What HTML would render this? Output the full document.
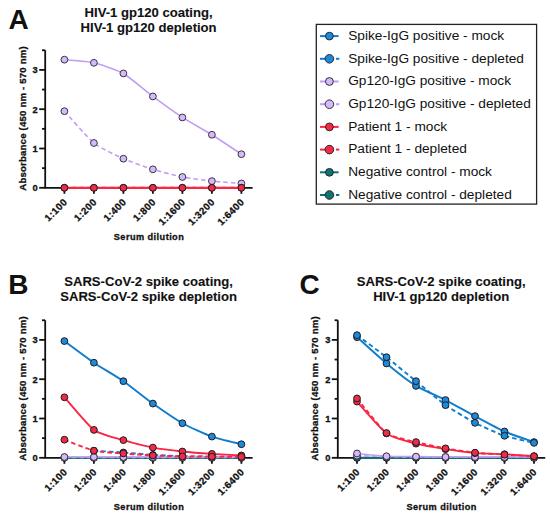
<!DOCTYPE html>
<html><head><meta charset="utf-8"><style>
html,body{margin:0;padding:0;background:#fff;width:550px;height:518px;overflow:hidden}
svg{display:block}
text{font-family:"Liberation Sans", sans-serif;fill:#111}

</style></head><body>
<svg width="550" height="518" viewBox="0 0 550 518">
<text x="8.6" y="28.6" font-size="28" font-weight="bold">A</text>
<text x="148.6" y="16.8" font-size="13.1" font-weight="bold" stroke="#111" stroke-width="0.1" text-anchor="middle">HIV-1 gp120 coating,</text>
<text x="148.6" y="31.5" font-size="13.1" font-weight="bold" stroke="#111" stroke-width="0.1" text-anchor="middle">HIV-1 gp120 depletion</text>
<path d="M45.20,50.25 V187.80 H252.60" fill="none" stroke="#111" stroke-width="1.8"/>
<line x1="39.20" y1="187.80" x2="45.20" y2="187.80" stroke="#111" stroke-width="1.8"/>
<text x="37.7" y="191.10" font-size="9.3" font-weight="bold" stroke="#111" stroke-width="0.3" text-anchor="end">0</text>
<line x1="42.00" y1="168.15" x2="45.20" y2="168.15" stroke="#111" stroke-width="1.8"/>
<line x1="39.20" y1="148.50" x2="45.20" y2="148.50" stroke="#111" stroke-width="1.8"/>
<text x="37.7" y="151.80" font-size="9.3" font-weight="bold" stroke="#111" stroke-width="0.3" text-anchor="end">1</text>
<line x1="42.00" y1="128.85" x2="45.20" y2="128.85" stroke="#111" stroke-width="1.8"/>
<line x1="39.20" y1="109.20" x2="45.20" y2="109.20" stroke="#111" stroke-width="1.8"/>
<text x="37.7" y="112.50" font-size="9.3" font-weight="bold" stroke="#111" stroke-width="0.3" text-anchor="end">2</text>
<line x1="42.00" y1="89.55" x2="45.20" y2="89.55" stroke="#111" stroke-width="1.8"/>
<line x1="39.20" y1="69.90" x2="45.20" y2="69.90" stroke="#111" stroke-width="1.8"/>
<text x="37.7" y="73.20" font-size="9.3" font-weight="bold" stroke="#111" stroke-width="0.3" text-anchor="end">3</text>
<line x1="42.00" y1="50.25" x2="45.20" y2="50.25" stroke="#111" stroke-width="1.8"/>
<line x1="64.40" y1="187.80" x2="64.40" y2="193.80" stroke="#111" stroke-width="1.8"/>
<text transform="translate(67.60,203.00) rotate(-45)" font-size="9.8" font-weight="bold" stroke="#111" stroke-width="0.3" text-anchor="end" textLength="26.85" lengthAdjust="spacing">1:100</text>
<line x1="93.90" y1="187.80" x2="93.90" y2="193.80" stroke="#111" stroke-width="1.8"/>
<text transform="translate(97.10,203.00) rotate(-45)" font-size="9.8" font-weight="bold" stroke="#111" stroke-width="0.3" text-anchor="end" textLength="26.85" lengthAdjust="spacing">1:200</text>
<line x1="123.40" y1="187.80" x2="123.40" y2="193.80" stroke="#111" stroke-width="1.8"/>
<text transform="translate(126.60,203.00) rotate(-45)" font-size="9.8" font-weight="bold" stroke="#111" stroke-width="0.3" text-anchor="end" textLength="26.85" lengthAdjust="spacing">1:400</text>
<line x1="152.90" y1="187.80" x2="152.90" y2="193.80" stroke="#111" stroke-width="1.8"/>
<text transform="translate(156.10,203.00) rotate(-45)" font-size="9.8" font-weight="bold" stroke="#111" stroke-width="0.3" text-anchor="end" textLength="26.85" lengthAdjust="spacing">1:800</text>
<line x1="182.40" y1="187.80" x2="182.40" y2="193.80" stroke="#111" stroke-width="1.8"/>
<text transform="translate(185.60,203.00) rotate(-45)" font-size="9.8" font-weight="bold" stroke="#111" stroke-width="0.3" text-anchor="end" textLength="32.69" lengthAdjust="spacing">1:1600</text>
<line x1="211.90" y1="187.80" x2="211.90" y2="193.80" stroke="#111" stroke-width="1.8"/>
<text transform="translate(215.10,203.00) rotate(-45)" font-size="9.8" font-weight="bold" stroke="#111" stroke-width="0.3" text-anchor="end" textLength="32.69" lengthAdjust="spacing">1:3200</text>
<line x1="241.40" y1="187.80" x2="241.40" y2="193.80" stroke="#111" stroke-width="1.8"/>
<text transform="translate(244.60,203.00) rotate(-45)" font-size="9.8" font-weight="bold" stroke="#111" stroke-width="0.3" text-anchor="end" textLength="32.69" lengthAdjust="spacing">1:6400</text>
<text transform="translate(25.50,118.50) rotate(-90)" font-size="9.6" font-weight="bold" stroke="#111" stroke-width="0.3" text-anchor="middle" textLength="144.5" lengthAdjust="spacing">Absorbance (450 nm - 570 nm)</text>
<text x="148.8" y="239.6" font-size="9.2" font-weight="bold" stroke="#111" stroke-width="0.3" text-anchor="middle" textLength="70" lengthAdjust="spacing">Serum dilution</text>
<path d="M64.40,59.68 C67.35,60.00 88.00,61.45 93.90,62.83 C99.80,64.20 117.50,70.08 123.40,73.44 C129.30,76.80 147.00,92.03 152.90,96.43 C158.80,100.83 176.50,113.62 182.40,117.45 C188.30,121.28 206.00,131.07 211.90,134.75 C217.80,138.42 238.45,152.25 241.40,154.20" fill="none" stroke="#c09df5" stroke-width="1.6"/>
<circle cx="64.40" cy="59.68" r="3.4" fill="#d5b9f9" stroke="#3a3346" stroke-width="1"/>
<circle cx="93.90" cy="62.83" r="3.4" fill="#d5b9f9" stroke="#3a3346" stroke-width="1"/>
<circle cx="123.40" cy="73.44" r="3.4" fill="#d5b9f9" stroke="#3a3346" stroke-width="1"/>
<circle cx="152.90" cy="96.43" r="3.4" fill="#d5b9f9" stroke="#3a3346" stroke-width="1"/>
<circle cx="182.40" cy="117.45" r="3.4" fill="#d5b9f9" stroke="#3a3346" stroke-width="1"/>
<circle cx="211.90" cy="134.75" r="3.4" fill="#d5b9f9" stroke="#3a3346" stroke-width="1"/>
<circle cx="241.40" cy="154.20" r="3.4" fill="#d5b9f9" stroke="#3a3346" stroke-width="1"/>
<path d="M64.40,111.17 C67.35,114.35 88.00,138.24 93.90,143.00 C99.80,147.75 117.50,156.08 123.40,158.72 C129.30,161.35 147.00,167.50 152.90,169.33 C158.80,171.16 176.50,175.81 182.40,176.99 C188.30,178.17 206.00,180.47 211.90,181.12 C217.80,181.77 238.45,183.24 241.40,183.48" fill="none" stroke="#c09df5" stroke-width="1.6" stroke-dasharray="4.5,3"/>
<circle cx="64.40" cy="111.17" r="3.4" fill="#d5b9f9" stroke="#3a3346" stroke-width="1"/>
<circle cx="93.90" cy="143.00" r="3.4" fill="#d5b9f9" stroke="#3a3346" stroke-width="1"/>
<circle cx="123.40" cy="158.72" r="3.4" fill="#d5b9f9" stroke="#3a3346" stroke-width="1"/>
<circle cx="152.90" cy="169.33" r="3.4" fill="#d5b9f9" stroke="#3a3346" stroke-width="1"/>
<circle cx="182.40" cy="176.99" r="3.4" fill="#d5b9f9" stroke="#3a3346" stroke-width="1"/>
<circle cx="211.90" cy="181.12" r="3.4" fill="#d5b9f9" stroke="#3a3346" stroke-width="1"/>
<circle cx="241.40" cy="183.48" r="3.4" fill="#d5b9f9" stroke="#3a3346" stroke-width="1"/>
<path d="M64.40,187.80 C67.35,187.80 88.00,187.80 93.90,187.80 C99.80,187.80 117.50,187.80 123.40,187.80 C129.30,187.80 147.00,187.80 152.90,187.80 C158.80,187.80 176.50,187.80 182.40,187.80 C188.30,187.80 206.00,187.80 211.90,187.80 C217.80,187.80 238.45,187.80 241.40,187.80" fill="none" stroke="#fb2545" stroke-width="2.3" stroke-dasharray="4.5,3"/>
<circle cx="64.40" cy="187.80" r="3.4" fill="#f02c45" stroke="#1e1c24" stroke-width="1"/>
<circle cx="93.90" cy="187.80" r="3.4" fill="#f02c45" stroke="#1e1c24" stroke-width="1"/>
<circle cx="123.40" cy="187.80" r="3.4" fill="#f02c45" stroke="#1e1c24" stroke-width="1"/>
<circle cx="152.90" cy="187.80" r="3.4" fill="#f02c45" stroke="#1e1c24" stroke-width="1"/>
<circle cx="182.40" cy="187.80" r="3.4" fill="#f02c45" stroke="#1e1c24" stroke-width="1"/>
<circle cx="211.90" cy="187.80" r="3.4" fill="#f02c45" stroke="#1e1c24" stroke-width="1"/>
<circle cx="241.40" cy="187.80" r="3.4" fill="#f02c45" stroke="#1e1c24" stroke-width="1"/>
<path d="M64.40,187.80 C67.35,187.80 88.00,187.80 93.90,187.80 C99.80,187.80 117.50,187.80 123.40,187.80 C129.30,187.80 147.00,187.80 152.90,187.80 C158.80,187.80 176.50,187.80 182.40,187.80 C188.30,187.80 206.00,187.80 211.90,187.80 C217.80,187.80 238.45,187.80 241.40,187.80" fill="none" stroke="#fb2545" stroke-width="2.3"/>
<circle cx="64.40" cy="187.80" r="3.4" fill="#f02c45" stroke="#1e1c24" stroke-width="1"/>
<circle cx="93.90" cy="187.80" r="3.4" fill="#f02c45" stroke="#1e1c24" stroke-width="1"/>
<circle cx="123.40" cy="187.80" r="3.4" fill="#f02c45" stroke="#1e1c24" stroke-width="1"/>
<circle cx="152.90" cy="187.80" r="3.4" fill="#f02c45" stroke="#1e1c24" stroke-width="1"/>
<circle cx="182.40" cy="187.80" r="3.4" fill="#f02c45" stroke="#1e1c24" stroke-width="1"/>
<circle cx="211.90" cy="187.80" r="3.4" fill="#f02c45" stroke="#1e1c24" stroke-width="1"/>
<circle cx="241.40" cy="187.80" r="3.4" fill="#f02c45" stroke="#1e1c24" stroke-width="1"/>
<text x="8.2" y="294.2" font-size="28" font-weight="bold">B</text>
<text x="148.6" y="286.2" font-size="13.1" font-weight="bold" stroke="#111" stroke-width="0.1" text-anchor="middle">SARS-CoV-2 spike coating,</text>
<text x="148.6" y="300.9" font-size="13.1" font-weight="bold" stroke="#111" stroke-width="0.1" text-anchor="middle">SARS-CoV-2 spike depletion</text>
<path d="M45.20,320.25 V457.80 H252.60" fill="none" stroke="#111" stroke-width="1.8"/>
<line x1="39.20" y1="457.80" x2="45.20" y2="457.80" stroke="#111" stroke-width="1.8"/>
<text x="37.7" y="461.10" font-size="9.3" font-weight="bold" stroke="#111" stroke-width="0.3" text-anchor="end">0</text>
<line x1="42.00" y1="438.15" x2="45.20" y2="438.15" stroke="#111" stroke-width="1.8"/>
<line x1="39.20" y1="418.50" x2="45.20" y2="418.50" stroke="#111" stroke-width="1.8"/>
<text x="37.7" y="421.80" font-size="9.3" font-weight="bold" stroke="#111" stroke-width="0.3" text-anchor="end">1</text>
<line x1="42.00" y1="398.85" x2="45.20" y2="398.85" stroke="#111" stroke-width="1.8"/>
<line x1="39.20" y1="379.20" x2="45.20" y2="379.20" stroke="#111" stroke-width="1.8"/>
<text x="37.7" y="382.50" font-size="9.3" font-weight="bold" stroke="#111" stroke-width="0.3" text-anchor="end">2</text>
<line x1="42.00" y1="359.55" x2="45.20" y2="359.55" stroke="#111" stroke-width="1.8"/>
<line x1="39.20" y1="339.90" x2="45.20" y2="339.90" stroke="#111" stroke-width="1.8"/>
<text x="37.7" y="343.20" font-size="9.3" font-weight="bold" stroke="#111" stroke-width="0.3" text-anchor="end">3</text>
<line x1="42.00" y1="320.25" x2="45.20" y2="320.25" stroke="#111" stroke-width="1.8"/>
<line x1="64.40" y1="457.80" x2="64.40" y2="463.80" stroke="#111" stroke-width="1.8"/>
<text transform="translate(67.60,473.00) rotate(-45)" font-size="9.8" font-weight="bold" stroke="#111" stroke-width="0.3" text-anchor="end" textLength="26.85" lengthAdjust="spacing">1:100</text>
<line x1="93.90" y1="457.80" x2="93.90" y2="463.80" stroke="#111" stroke-width="1.8"/>
<text transform="translate(97.10,473.00) rotate(-45)" font-size="9.8" font-weight="bold" stroke="#111" stroke-width="0.3" text-anchor="end" textLength="26.85" lengthAdjust="spacing">1:200</text>
<line x1="123.40" y1="457.80" x2="123.40" y2="463.80" stroke="#111" stroke-width="1.8"/>
<text transform="translate(126.60,473.00) rotate(-45)" font-size="9.8" font-weight="bold" stroke="#111" stroke-width="0.3" text-anchor="end" textLength="26.85" lengthAdjust="spacing">1:400</text>
<line x1="152.90" y1="457.80" x2="152.90" y2="463.80" stroke="#111" stroke-width="1.8"/>
<text transform="translate(156.10,473.00) rotate(-45)" font-size="9.8" font-weight="bold" stroke="#111" stroke-width="0.3" text-anchor="end" textLength="26.85" lengthAdjust="spacing">1:800</text>
<line x1="182.40" y1="457.80" x2="182.40" y2="463.80" stroke="#111" stroke-width="1.8"/>
<text transform="translate(185.60,473.00) rotate(-45)" font-size="9.8" font-weight="bold" stroke="#111" stroke-width="0.3" text-anchor="end" textLength="32.69" lengthAdjust="spacing">1:1600</text>
<line x1="211.90" y1="457.80" x2="211.90" y2="463.80" stroke="#111" stroke-width="1.8"/>
<text transform="translate(215.10,473.00) rotate(-45)" font-size="9.8" font-weight="bold" stroke="#111" stroke-width="0.3" text-anchor="end" textLength="32.69" lengthAdjust="spacing">1:3200</text>
<line x1="241.40" y1="457.80" x2="241.40" y2="463.80" stroke="#111" stroke-width="1.8"/>
<text transform="translate(244.60,473.00) rotate(-45)" font-size="9.8" font-weight="bold" stroke="#111" stroke-width="0.3" text-anchor="end" textLength="32.69" lengthAdjust="spacing">1:6400</text>
<text transform="translate(25.50,388.50) rotate(-90)" font-size="9.6" font-weight="bold" stroke="#111" stroke-width="0.3" text-anchor="middle" textLength="144.5" lengthAdjust="spacing">Absorbance (450 nm - 570 nm)</text>
<text x="148.8" y="509.6" font-size="9.2" font-weight="bold" stroke="#111" stroke-width="0.3" text-anchor="middle" textLength="70" lengthAdjust="spacing">Serum dilution</text>
<path d="M64.40,457.80 C67.35,457.80 88.00,457.80 93.90,457.80 C99.80,457.80 117.50,457.80 123.40,457.80 C129.30,457.80 147.00,457.80 152.90,457.80 C158.80,457.80 176.50,457.80 182.40,457.80 C188.30,457.80 206.00,457.80 211.90,457.80 C217.80,457.80 238.45,457.80 241.40,457.80" fill="none" stroke="#0d7473" stroke-width="1.9"/>
<circle cx="64.40" cy="457.80" r="3.4" fill="#0d7473" stroke="#1e1c24" stroke-width="1"/>
<circle cx="93.90" cy="457.80" r="3.4" fill="#0d7473" stroke="#1e1c24" stroke-width="1"/>
<circle cx="123.40" cy="457.80" r="3.4" fill="#0d7473" stroke="#1e1c24" stroke-width="1"/>
<circle cx="152.90" cy="457.80" r="3.4" fill="#0d7473" stroke="#1e1c24" stroke-width="1"/>
<circle cx="182.40" cy="457.80" r="3.4" fill="#0d7473" stroke="#1e1c24" stroke-width="1"/>
<circle cx="211.90" cy="457.80" r="3.4" fill="#0d7473" stroke="#1e1c24" stroke-width="1"/>
<circle cx="241.40" cy="457.80" r="3.4" fill="#0d7473" stroke="#1e1c24" stroke-width="1"/>
<path d="M64.40,457.80 C67.35,457.80 88.00,457.80 93.90,457.80 C99.80,457.80 117.50,457.80 123.40,457.80 C129.30,457.80 147.00,457.80 152.90,457.80 C158.80,457.80 176.50,457.80 182.40,457.80 C188.30,457.80 206.00,457.80 211.90,457.80 C217.80,457.80 238.45,457.80 241.40,457.80" fill="none" stroke="#0d7473" stroke-width="1.9" stroke-dasharray="4.5,3"/>
<circle cx="64.40" cy="457.80" r="3.4" fill="#0d7473" stroke="#1e1c24" stroke-width="1"/>
<circle cx="93.90" cy="457.80" r="3.4" fill="#0d7473" stroke="#1e1c24" stroke-width="1"/>
<circle cx="123.40" cy="457.80" r="3.4" fill="#0d7473" stroke="#1e1c24" stroke-width="1"/>
<circle cx="152.90" cy="457.80" r="3.4" fill="#0d7473" stroke="#1e1c24" stroke-width="1"/>
<circle cx="182.40" cy="457.80" r="3.4" fill="#0d7473" stroke="#1e1c24" stroke-width="1"/>
<circle cx="211.90" cy="457.80" r="3.4" fill="#0d7473" stroke="#1e1c24" stroke-width="1"/>
<circle cx="241.40" cy="457.80" r="3.4" fill="#0d7473" stroke="#1e1c24" stroke-width="1"/>
<path d="M64.40,341.08 C67.35,343.24 88.00,358.69 93.90,362.69 C99.80,366.70 117.50,377.08 123.40,381.17 C129.30,385.25 147.00,399.36 152.90,403.57 C158.80,407.77 176.50,419.91 182.40,423.22 C188.30,426.52 206.00,434.48 211.90,436.58 C217.80,438.68 238.45,443.48 241.40,444.24" fill="none" stroke="#0f7dcd" stroke-width="1.9"/>
<circle cx="64.40" cy="341.08" r="3.4" fill="#1d8ad9" stroke="#1e1c24" stroke-width="1"/>
<circle cx="93.90" cy="362.69" r="3.4" fill="#1d8ad9" stroke="#1e1c24" stroke-width="1"/>
<circle cx="123.40" cy="381.17" r="3.4" fill="#1d8ad9" stroke="#1e1c24" stroke-width="1"/>
<circle cx="152.90" cy="403.57" r="3.4" fill="#1d8ad9" stroke="#1e1c24" stroke-width="1"/>
<circle cx="182.40" cy="423.22" r="3.4" fill="#1d8ad9" stroke="#1e1c24" stroke-width="1"/>
<circle cx="211.90" cy="436.58" r="3.4" fill="#1d8ad9" stroke="#1e1c24" stroke-width="1"/>
<circle cx="241.40" cy="444.24" r="3.4" fill="#1d8ad9" stroke="#1e1c24" stroke-width="1"/>
<path d="M93.90,450.73 C96.85,450.90 117.50,452.08 123.40,452.49 C129.30,452.91 147.00,454.48 152.90,454.85 C158.80,455.23 176.50,456.05 182.40,456.23 C188.30,456.40 206.00,456.56 211.90,456.62 C217.80,456.68 238.45,456.80 241.40,456.82" fill="none" stroke="#0f7dcd" stroke-width="1.9" stroke-dasharray="4.5,3"/>
<circle cx="93.90" cy="450.73" r="3.4" fill="#1d8ad9" stroke="#1e1c24" stroke-width="1"/>
<circle cx="123.40" cy="452.49" r="3.4" fill="#1d8ad9" stroke="#1e1c24" stroke-width="1"/>
<circle cx="152.90" cy="454.85" r="3.4" fill="#1d8ad9" stroke="#1e1c24" stroke-width="1"/>
<circle cx="182.40" cy="456.23" r="3.4" fill="#1d8ad9" stroke="#1e1c24" stroke-width="1"/>
<circle cx="211.90" cy="456.62" r="3.4" fill="#1d8ad9" stroke="#1e1c24" stroke-width="1"/>
<circle cx="241.40" cy="456.82" r="3.4" fill="#1d8ad9" stroke="#1e1c24" stroke-width="1"/>
<path d="M64.40,457.41 C67.35,457.41 88.00,457.41 93.90,457.41 C99.80,457.41 117.50,457.41 123.40,457.41 C129.30,457.41 147.00,457.41 152.90,457.41 C158.80,457.41 176.50,457.41 182.40,457.41 C188.30,457.41 206.00,457.41 211.90,457.41 C217.80,457.41 238.45,457.41 241.40,457.41" fill="none" stroke="#c09df5" stroke-width="1.6" stroke-dasharray="4.5,3"/>
<circle cx="64.40" cy="457.41" r="3.4" fill="#d5b9f9" stroke="#3a3346" stroke-width="1"/>
<circle cx="93.90" cy="457.41" r="3.4" fill="#d5b9f9" stroke="#3a3346" stroke-width="1"/>
<circle cx="123.40" cy="457.41" r="3.4" fill="#d5b9f9" stroke="#3a3346" stroke-width="1"/>
<circle cx="152.90" cy="457.41" r="3.4" fill="#d5b9f9" stroke="#3a3346" stroke-width="1"/>
<circle cx="182.40" cy="457.41" r="3.4" fill="#d5b9f9" stroke="#3a3346" stroke-width="1"/>
<circle cx="211.90" cy="457.41" r="3.4" fill="#d5b9f9" stroke="#3a3346" stroke-width="1"/>
<circle cx="241.40" cy="457.41" r="3.4" fill="#d5b9f9" stroke="#3a3346" stroke-width="1"/>
<path d="M64.40,457.01 C67.35,457.01 88.00,457.01 93.90,457.01 C99.80,457.01 117.50,457.01 123.40,457.01 C129.30,457.01 147.00,457.01 152.90,457.01 C158.80,457.01 176.50,457.01 182.40,457.01 C188.30,457.01 206.00,457.01 211.90,457.01 C217.80,457.01 238.45,457.01 241.40,457.01" fill="none" stroke="#c09df5" stroke-width="1.6"/>
<circle cx="64.40" cy="457.01" r="3.4" fill="#d5b9f9" stroke="#3a3346" stroke-width="1"/>
<circle cx="93.90" cy="457.01" r="3.4" fill="#d5b9f9" stroke="#3a3346" stroke-width="1"/>
<circle cx="123.40" cy="457.01" r="3.4" fill="#d5b9f9" stroke="#3a3346" stroke-width="1"/>
<circle cx="152.90" cy="457.01" r="3.4" fill="#d5b9f9" stroke="#3a3346" stroke-width="1"/>
<circle cx="182.40" cy="457.01" r="3.4" fill="#d5b9f9" stroke="#3a3346" stroke-width="1"/>
<circle cx="211.90" cy="457.01" r="3.4" fill="#d5b9f9" stroke="#3a3346" stroke-width="1"/>
<circle cx="241.40" cy="457.01" r="3.4" fill="#d5b9f9" stroke="#3a3346" stroke-width="1"/>
<path d="M64.40,397.28 C67.35,400.54 88.00,425.61 93.90,429.90 C99.80,434.18 117.50,438.35 123.40,440.12 C129.30,441.88 147.00,446.44 152.90,447.58 C158.80,448.72 176.50,450.88 182.40,451.51 C188.30,452.14 206.00,453.48 211.90,453.87 C217.80,454.26 238.45,455.28 241.40,455.44" fill="none" stroke="#fb2545" stroke-width="1.9"/>
<circle cx="64.40" cy="397.28" r="3.4" fill="#f02c45" stroke="#1e1c24" stroke-width="1"/>
<circle cx="93.90" cy="429.90" r="3.4" fill="#f02c45" stroke="#1e1c24" stroke-width="1"/>
<circle cx="123.40" cy="440.12" r="3.4" fill="#f02c45" stroke="#1e1c24" stroke-width="1"/>
<circle cx="152.90" cy="447.58" r="3.4" fill="#f02c45" stroke="#1e1c24" stroke-width="1"/>
<circle cx="182.40" cy="451.51" r="3.4" fill="#f02c45" stroke="#1e1c24" stroke-width="1"/>
<circle cx="211.90" cy="453.87" r="3.4" fill="#f02c45" stroke="#1e1c24" stroke-width="1"/>
<circle cx="241.40" cy="455.44" r="3.4" fill="#f02c45" stroke="#1e1c24" stroke-width="1"/>
<path d="M64.40,439.72 C67.35,440.82 88.00,449.35 93.90,450.73 C99.80,452.10 117.50,453.01 123.40,453.48 C129.30,453.95 147.00,455.15 152.90,455.44 C158.80,455.73 176.50,456.27 182.40,456.39 C188.30,456.50 206.00,456.58 211.90,456.62 C217.80,456.66 238.45,456.80 241.40,456.82" fill="none" stroke="#fb2545" stroke-width="1.9" stroke-dasharray="4.5,3"/>
<circle cx="64.40" cy="439.72" r="3.4" fill="#f02c45" stroke="#1e1c24" stroke-width="1"/>
<circle cx="93.90" cy="450.73" r="3.4" fill="#f02c45" stroke="#1e1c24" stroke-width="1"/>
<circle cx="123.40" cy="453.48" r="3.4" fill="#f02c45" stroke="#1e1c24" stroke-width="1"/>
<circle cx="152.90" cy="455.44" r="3.4" fill="#f02c45" stroke="#1e1c24" stroke-width="1"/>
<circle cx="182.40" cy="456.39" r="3.4" fill="#f02c45" stroke="#1e1c24" stroke-width="1"/>
<circle cx="211.90" cy="456.62" r="3.4" fill="#f02c45" stroke="#1e1c24" stroke-width="1"/>
<circle cx="241.40" cy="456.82" r="3.4" fill="#f02c45" stroke="#1e1c24" stroke-width="1"/>
<text x="299.5" y="294.2" font-size="28" font-weight="bold">C</text>
<text x="441.2" y="286.2" font-size="13.1" font-weight="bold" stroke="#111" stroke-width="0.1" text-anchor="middle">SARS-CoV-2 spike coating,</text>
<text x="441.2" y="300.9" font-size="13.1" font-weight="bold" stroke="#111" stroke-width="0.1" text-anchor="middle">HIV-1 gp120 depletion</text>
<path d="M337.80,320.25 V457.80 H545.20" fill="none" stroke="#111" stroke-width="1.8"/>
<line x1="331.80" y1="457.80" x2="337.80" y2="457.80" stroke="#111" stroke-width="1.8"/>
<text x="330.3" y="461.10" font-size="9.3" font-weight="bold" stroke="#111" stroke-width="0.3" text-anchor="end">0</text>
<line x1="334.60" y1="438.15" x2="337.80" y2="438.15" stroke="#111" stroke-width="1.8"/>
<line x1="331.80" y1="418.50" x2="337.80" y2="418.50" stroke="#111" stroke-width="1.8"/>
<text x="330.3" y="421.80" font-size="9.3" font-weight="bold" stroke="#111" stroke-width="0.3" text-anchor="end">1</text>
<line x1="334.60" y1="398.85" x2="337.80" y2="398.85" stroke="#111" stroke-width="1.8"/>
<line x1="331.80" y1="379.20" x2="337.80" y2="379.20" stroke="#111" stroke-width="1.8"/>
<text x="330.3" y="382.50" font-size="9.3" font-weight="bold" stroke="#111" stroke-width="0.3" text-anchor="end">2</text>
<line x1="334.60" y1="359.55" x2="337.80" y2="359.55" stroke="#111" stroke-width="1.8"/>
<line x1="331.80" y1="339.90" x2="337.80" y2="339.90" stroke="#111" stroke-width="1.8"/>
<text x="330.3" y="343.20" font-size="9.3" font-weight="bold" stroke="#111" stroke-width="0.3" text-anchor="end">3</text>
<line x1="334.60" y1="320.25" x2="337.80" y2="320.25" stroke="#111" stroke-width="1.8"/>
<line x1="357.00" y1="457.80" x2="357.00" y2="463.80" stroke="#111" stroke-width="1.8"/>
<text transform="translate(360.20,473.00) rotate(-45)" font-size="9.8" font-weight="bold" stroke="#111" stroke-width="0.3" text-anchor="end" textLength="26.85" lengthAdjust="spacing">1:100</text>
<line x1="386.50" y1="457.80" x2="386.50" y2="463.80" stroke="#111" stroke-width="1.8"/>
<text transform="translate(389.70,473.00) rotate(-45)" font-size="9.8" font-weight="bold" stroke="#111" stroke-width="0.3" text-anchor="end" textLength="26.85" lengthAdjust="spacing">1:200</text>
<line x1="416.00" y1="457.80" x2="416.00" y2="463.80" stroke="#111" stroke-width="1.8"/>
<text transform="translate(419.20,473.00) rotate(-45)" font-size="9.8" font-weight="bold" stroke="#111" stroke-width="0.3" text-anchor="end" textLength="26.85" lengthAdjust="spacing">1:400</text>
<line x1="445.50" y1="457.80" x2="445.50" y2="463.80" stroke="#111" stroke-width="1.8"/>
<text transform="translate(448.70,473.00) rotate(-45)" font-size="9.8" font-weight="bold" stroke="#111" stroke-width="0.3" text-anchor="end" textLength="26.85" lengthAdjust="spacing">1:800</text>
<line x1="475.00" y1="457.80" x2="475.00" y2="463.80" stroke="#111" stroke-width="1.8"/>
<text transform="translate(478.20,473.00) rotate(-45)" font-size="9.8" font-weight="bold" stroke="#111" stroke-width="0.3" text-anchor="end" textLength="32.69" lengthAdjust="spacing">1:1600</text>
<line x1="504.50" y1="457.80" x2="504.50" y2="463.80" stroke="#111" stroke-width="1.8"/>
<text transform="translate(507.70,473.00) rotate(-45)" font-size="9.8" font-weight="bold" stroke="#111" stroke-width="0.3" text-anchor="end" textLength="32.69" lengthAdjust="spacing">1:3200</text>
<line x1="534.00" y1="457.80" x2="534.00" y2="463.80" stroke="#111" stroke-width="1.8"/>
<text transform="translate(537.20,473.00) rotate(-45)" font-size="9.8" font-weight="bold" stroke="#111" stroke-width="0.3" text-anchor="end" textLength="32.69" lengthAdjust="spacing">1:6400</text>
<text transform="translate(318.10,388.50) rotate(-90)" font-size="9.6" font-weight="bold" stroke="#111" stroke-width="0.3" text-anchor="middle" textLength="144.5" lengthAdjust="spacing">Absorbance (450 nm - 570 nm)</text>
<text x="441.4" y="509.6" font-size="9.2" font-weight="bold" stroke="#111" stroke-width="0.3" text-anchor="middle" textLength="70" lengthAdjust="spacing">Serum dilution</text>
<path d="M357.00,457.80 C359.95,457.80 380.60,457.80 386.50,457.80 C392.40,457.80 410.10,457.80 416.00,457.80 C421.90,457.80 439.60,457.80 445.50,457.80 C451.40,457.80 469.10,457.80 475.00,457.80 C480.90,457.80 498.60,457.80 504.50,457.80 C510.40,457.80 531.05,457.80 534.00,457.80" fill="none" stroke="#0d7473" stroke-width="1.9"/>
<circle cx="357.00" cy="457.80" r="3.4" fill="#0d7473" stroke="#1e1c24" stroke-width="1"/>
<circle cx="386.50" cy="457.80" r="3.4" fill="#0d7473" stroke="#1e1c24" stroke-width="1"/>
<circle cx="416.00" cy="457.80" r="3.4" fill="#0d7473" stroke="#1e1c24" stroke-width="1"/>
<circle cx="445.50" cy="457.80" r="3.4" fill="#0d7473" stroke="#1e1c24" stroke-width="1"/>
<circle cx="475.00" cy="457.80" r="3.4" fill="#0d7473" stroke="#1e1c24" stroke-width="1"/>
<circle cx="504.50" cy="457.80" r="3.4" fill="#0d7473" stroke="#1e1c24" stroke-width="1"/>
<circle cx="534.00" cy="457.80" r="3.4" fill="#0d7473" stroke="#1e1c24" stroke-width="1"/>
<path d="M357.00,457.80 C359.95,457.80 380.60,457.80 386.50,457.80 C392.40,457.80 410.10,457.80 416.00,457.80 C421.90,457.80 439.60,457.80 445.50,457.80 C451.40,457.80 469.10,457.80 475.00,457.80 C480.90,457.80 498.60,457.80 504.50,457.80 C510.40,457.80 531.05,457.80 534.00,457.80" fill="none" stroke="#0d7473" stroke-width="1.9" stroke-dasharray="4.5,3"/>
<circle cx="357.00" cy="457.80" r="3.4" fill="#0d7473" stroke="#1e1c24" stroke-width="1"/>
<circle cx="386.50" cy="457.80" r="3.4" fill="#0d7473" stroke="#1e1c24" stroke-width="1"/>
<circle cx="416.00" cy="457.80" r="3.4" fill="#0d7473" stroke="#1e1c24" stroke-width="1"/>
<circle cx="445.50" cy="457.80" r="3.4" fill="#0d7473" stroke="#1e1c24" stroke-width="1"/>
<circle cx="475.00" cy="457.80" r="3.4" fill="#0d7473" stroke="#1e1c24" stroke-width="1"/>
<circle cx="504.50" cy="457.80" r="3.4" fill="#0d7473" stroke="#1e1c24" stroke-width="1"/>
<circle cx="534.00" cy="457.80" r="3.4" fill="#0d7473" stroke="#1e1c24" stroke-width="1"/>
<path d="M357.00,455.64 C359.95,455.74 380.60,456.48 386.50,456.62 C392.40,456.76 410.10,456.97 416.00,457.01 C421.90,457.05 439.60,457.01 445.50,457.01 C451.40,457.01 469.10,457.01 475.00,457.01 C480.90,457.01 498.60,457.01 504.50,457.01 C510.40,457.01 531.05,457.01 534.00,457.01" fill="none" stroke="#c09df5" stroke-width="1.6" stroke-dasharray="4.5,3"/>
<circle cx="357.00" cy="455.64" r="3.4" fill="#d5b9f9" stroke="#3a3346" stroke-width="1"/>
<circle cx="386.50" cy="456.62" r="3.4" fill="#d5b9f9" stroke="#3a3346" stroke-width="1"/>
<circle cx="416.00" cy="457.01" r="3.4" fill="#d5b9f9" stroke="#3a3346" stroke-width="1"/>
<circle cx="445.50" cy="457.01" r="3.4" fill="#d5b9f9" stroke="#3a3346" stroke-width="1"/>
<circle cx="475.00" cy="457.01" r="3.4" fill="#d5b9f9" stroke="#3a3346" stroke-width="1"/>
<circle cx="504.50" cy="457.01" r="3.4" fill="#d5b9f9" stroke="#3a3346" stroke-width="1"/>
<circle cx="534.00" cy="457.01" r="3.4" fill="#d5b9f9" stroke="#3a3346" stroke-width="1"/>
<path d="M357.00,453.48 C359.95,453.75 380.60,455.91 386.50,456.23 C392.40,456.54 410.10,456.54 416.00,456.62 C421.90,456.70 439.60,456.97 445.50,457.01 C451.40,457.05 469.10,457.01 475.00,457.01 C480.90,457.01 498.60,457.01 504.50,457.01 C510.40,457.01 531.05,457.01 534.00,457.01" fill="none" stroke="#c09df5" stroke-width="1.6"/>
<circle cx="357.00" cy="453.48" r="3.4" fill="#d5b9f9" stroke="#3a3346" stroke-width="1"/>
<circle cx="386.50" cy="456.23" r="3.4" fill="#d5b9f9" stroke="#3a3346" stroke-width="1"/>
<circle cx="416.00" cy="456.62" r="3.4" fill="#d5b9f9" stroke="#3a3346" stroke-width="1"/>
<circle cx="445.50" cy="457.01" r="3.4" fill="#d5b9f9" stroke="#3a3346" stroke-width="1"/>
<circle cx="475.00" cy="457.01" r="3.4" fill="#d5b9f9" stroke="#3a3346" stroke-width="1"/>
<circle cx="504.50" cy="457.01" r="3.4" fill="#d5b9f9" stroke="#3a3346" stroke-width="1"/>
<circle cx="534.00" cy="457.01" r="3.4" fill="#d5b9f9" stroke="#3a3346" stroke-width="1"/>
<path d="M357.00,337.15 C359.95,339.78 380.60,358.61 386.50,363.48 C392.40,368.35 410.10,382.23 416.00,385.88 C421.90,389.54 439.60,397.00 445.50,400.03 C451.40,403.06 469.10,413.00 475.00,416.14 C480.90,419.29 498.60,428.88 504.50,431.47 C510.40,434.06 531.05,441.02 534.00,442.08" fill="none" stroke="#0f7dcd" stroke-width="1.9"/>
<circle cx="357.00" cy="337.15" r="3.4" fill="#1d8ad9" stroke="#1e1c24" stroke-width="1"/>
<circle cx="386.50" cy="363.48" r="3.4" fill="#1d8ad9" stroke="#1e1c24" stroke-width="1"/>
<circle cx="416.00" cy="385.88" r="3.4" fill="#1d8ad9" stroke="#1e1c24" stroke-width="1"/>
<circle cx="445.50" cy="400.03" r="3.4" fill="#1d8ad9" stroke="#1e1c24" stroke-width="1"/>
<circle cx="475.00" cy="416.14" r="3.4" fill="#1d8ad9" stroke="#1e1c24" stroke-width="1"/>
<circle cx="504.50" cy="431.47" r="3.4" fill="#1d8ad9" stroke="#1e1c24" stroke-width="1"/>
<circle cx="534.00" cy="442.08" r="3.4" fill="#1d8ad9" stroke="#1e1c24" stroke-width="1"/>
<path d="M357.00,335.18 C359.95,337.38 380.60,352.59 386.50,357.19 C392.40,361.79 410.10,376.37 416.00,381.17 C421.90,385.96 439.60,400.97 445.50,405.14 C451.40,409.30 469.10,419.76 475.00,422.82 C480.90,425.89 498.60,433.79 504.50,435.79 C510.40,437.80 531.05,442.16 534.00,442.87" fill="none" stroke="#0f7dcd" stroke-width="1.9" stroke-dasharray="4.5,3"/>
<circle cx="357.00" cy="335.18" r="3.4" fill="#1d8ad9" stroke="#1e1c24" stroke-width="1"/>
<circle cx="386.50" cy="357.19" r="3.4" fill="#1d8ad9" stroke="#1e1c24" stroke-width="1"/>
<circle cx="416.00" cy="381.17" r="3.4" fill="#1d8ad9" stroke="#1e1c24" stroke-width="1"/>
<circle cx="445.50" cy="405.14" r="3.4" fill="#1d8ad9" stroke="#1e1c24" stroke-width="1"/>
<circle cx="475.00" cy="422.82" r="3.4" fill="#1d8ad9" stroke="#1e1c24" stroke-width="1"/>
<circle cx="504.50" cy="435.79" r="3.4" fill="#1d8ad9" stroke="#1e1c24" stroke-width="1"/>
<circle cx="534.00" cy="442.87" r="3.4" fill="#1d8ad9" stroke="#1e1c24" stroke-width="1"/>
<path d="M357.00,401.60 C359.95,404.78 380.60,429.23 386.50,433.43 C392.40,437.64 410.10,442.08 416.00,443.65 C421.90,445.22 439.60,448.21 445.50,449.15 C451.40,450.10 469.10,452.57 475.00,453.08 C480.90,453.59 498.60,453.95 504.50,454.26 C510.40,454.58 531.05,456.03 534.00,456.23" fill="none" stroke="#fb2545" stroke-width="1.9"/>
<circle cx="357.00" cy="401.60" r="3.4" fill="#f02c45" stroke="#1e1c24" stroke-width="1"/>
<circle cx="386.50" cy="433.43" r="3.4" fill="#f02c45" stroke="#1e1c24" stroke-width="1"/>
<circle cx="416.00" cy="443.65" r="3.4" fill="#f02c45" stroke="#1e1c24" stroke-width="1"/>
<circle cx="445.50" cy="449.15" r="3.4" fill="#f02c45" stroke="#1e1c24" stroke-width="1"/>
<circle cx="475.00" cy="453.08" r="3.4" fill="#f02c45" stroke="#1e1c24" stroke-width="1"/>
<circle cx="504.50" cy="454.26" r="3.4" fill="#f02c45" stroke="#1e1c24" stroke-width="1"/>
<circle cx="534.00" cy="456.23" r="3.4" fill="#f02c45" stroke="#1e1c24" stroke-width="1"/>
<path d="M357.00,398.46 C359.95,401.92 380.60,428.68 386.50,433.04 C392.40,437.40 410.10,440.55 416.00,442.08 C421.90,443.61 439.60,447.31 445.50,448.37 C451.40,449.43 469.10,452.06 475.00,452.69 C480.90,453.32 498.60,454.30 504.50,454.66 C510.40,455.01 531.05,456.07 534.00,456.23" fill="none" stroke="#fb2545" stroke-width="1.9" stroke-dasharray="4.5,3"/>
<circle cx="357.00" cy="398.46" r="3.4" fill="#f02c45" stroke="#1e1c24" stroke-width="1"/>
<circle cx="386.50" cy="433.04" r="3.4" fill="#f02c45" stroke="#1e1c24" stroke-width="1"/>
<circle cx="416.00" cy="442.08" r="3.4" fill="#f02c45" stroke="#1e1c24" stroke-width="1"/>
<circle cx="445.50" cy="448.37" r="3.4" fill="#f02c45" stroke="#1e1c24" stroke-width="1"/>
<circle cx="475.00" cy="452.69" r="3.4" fill="#f02c45" stroke="#1e1c24" stroke-width="1"/>
<circle cx="504.50" cy="454.66" r="3.4" fill="#f02c45" stroke="#1e1c24" stroke-width="1"/>
<circle cx="534.00" cy="456.23" r="3.4" fill="#f02c45" stroke="#1e1c24" stroke-width="1"/>
<rect x="316.3" y="24.4" width="220.3" height="179.7" fill="none" stroke="#222" stroke-width="1.3"/>
<line x1="320" y1="36.10" x2="338.6" y2="36.10" stroke="#0f7dcd" stroke-width="2"/>
<circle cx="329.4" cy="36.10" r="3.9" fill="#1d8ad9" stroke="#1e1c24" stroke-width="0.9"/>
<text x="348.2" y="39.90" font-size="13.7">Spike-IgG positive - mock</text>
<line x1="320" y1="58.80" x2="326" y2="58.80" stroke="#0f7dcd" stroke-width="2"/>
<line x1="336" y1="58.80" x2="339.3" y2="58.80" stroke="#0f7dcd" stroke-width="2"/>
<circle cx="329.4" cy="58.80" r="4.3" fill="#1d8ad9" stroke="#1e1c24" stroke-width="0.9"/>
<text x="348.2" y="62.60" font-size="13.7">Spike-IgG positive - depleted</text>
<line x1="320" y1="81.50" x2="338.6" y2="81.50" stroke="#c09df5" stroke-width="2"/>
<circle cx="329.4" cy="81.50" r="3.9" fill="#d5b9f9" stroke="#1e1c24" stroke-width="0.9"/>
<text x="348.2" y="85.30" font-size="13.7">Gp120-IgG positive - mock</text>
<line x1="320" y1="104.20" x2="326" y2="104.20" stroke="#c09df5" stroke-width="2"/>
<line x1="336" y1="104.20" x2="339.3" y2="104.20" stroke="#c09df5" stroke-width="2"/>
<circle cx="329.4" cy="104.20" r="4.3" fill="#d5b9f9" stroke="#1e1c24" stroke-width="0.9"/>
<text x="348.2" y="108.00" font-size="13.7">Gp120-IgG positive - depleted</text>
<line x1="320" y1="126.90" x2="338.6" y2="126.90" stroke="#fb2545" stroke-width="2"/>
<circle cx="329.4" cy="126.90" r="3.9" fill="#f02c45" stroke="#1e1c24" stroke-width="0.9"/>
<text x="348.2" y="130.70" font-size="13.7">Patient 1 - mock</text>
<line x1="320" y1="149.60" x2="326" y2="149.60" stroke="#fb2545" stroke-width="2"/>
<line x1="336" y1="149.60" x2="339.3" y2="149.60" stroke="#fb2545" stroke-width="2"/>
<circle cx="329.4" cy="149.60" r="4.3" fill="#f02c45" stroke="#1e1c24" stroke-width="0.9"/>
<text x="348.2" y="153.40" font-size="13.7">Patient 1 - depleted</text>
<line x1="320" y1="172.30" x2="338.6" y2="172.30" stroke="#0d7473" stroke-width="2"/>
<circle cx="329.4" cy="172.30" r="3.9" fill="#0d7473" stroke="#1e1c24" stroke-width="0.9"/>
<text x="348.2" y="176.10" font-size="13.7">Negative control - mock</text>
<line x1="320" y1="195.00" x2="326" y2="195.00" stroke="#0d7473" stroke-width="2"/>
<line x1="336" y1="195.00" x2="339.3" y2="195.00" stroke="#0d7473" stroke-width="2"/>
<circle cx="329.4" cy="195.00" r="4.3" fill="#0d7473" stroke="#1e1c24" stroke-width="0.9"/>
<text x="348.2" y="198.80" font-size="13.7">Negative control - depleted</text>
</svg>
</body></html>
